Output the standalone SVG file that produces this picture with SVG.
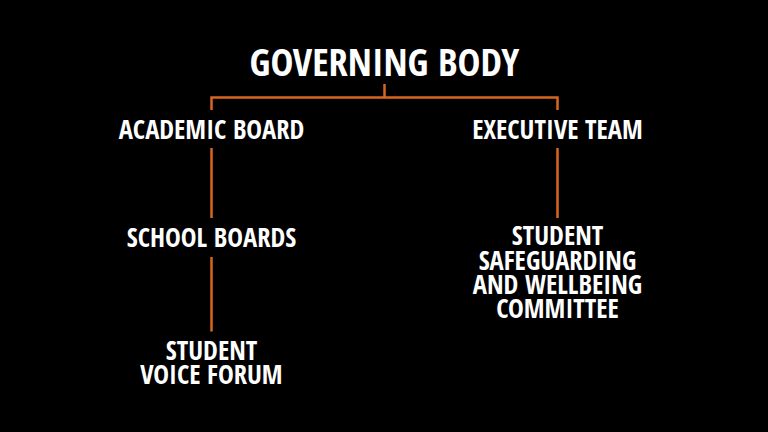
<svg xmlns="http://www.w3.org/2000/svg" width="768" height="432" viewBox="0 0 768 432">
<style>
.t{font-family:"Open Sans Condensed","Liberation Sans Narrow","Open Sans",sans-serif;font-stretch:condensed;font-weight:bold;fill:#ffffff;text-anchor:middle}
.big{font-size:38.5px}
.n{font-size:26.5px}
.c{stroke:#d9661f;stroke-width:2.5;fill:none}
</style>
<rect width="768" height="432" fill="#000"/>
<g id="connectors">
<path class="c" d="M384.5 84 V97.5 M211.5 110 V97.5 H557.5 V110"/>
<path class="c" d="M211.5 148 V218"/>
<path class="c" d="M211.5 257 V331.5"/>
<path class="c" d="M557.5 148 V218"/>
</g>
<g id="governing-body"><text class="t big" x="384.5" y="75.5">GOVERNING BODY</text></g>
<g id="academic-board"><text class="t n" x="211.5" y="139">ACADEMIC BOARD</text></g>
<g id="executive-team"><text class="t n" x="557.5" y="139">EXECUTIVE TEAM</text></g>
<g id="school-boards"><text class="t n" x="211.5" y="247">SCHOOL BOARDS</text></g>
<g id="student-voice-forum"><text class="t n" x="211.5" y="360">STUDENT</text><text class="t n" x="211.5" y="383.5">VOICE FORUM</text></g>
<g id="safeguarding-committee"><text class="t n" x="557.5" y="245">STUDENT</text><text class="t n" x="557.5" y="269.5">SAFEGUARDING</text><text class="t n" x="557.5" y="294">AND WELLBEING</text><text class="t n" x="557.5" y="318">COMMITTEE</text></g>
</svg>
